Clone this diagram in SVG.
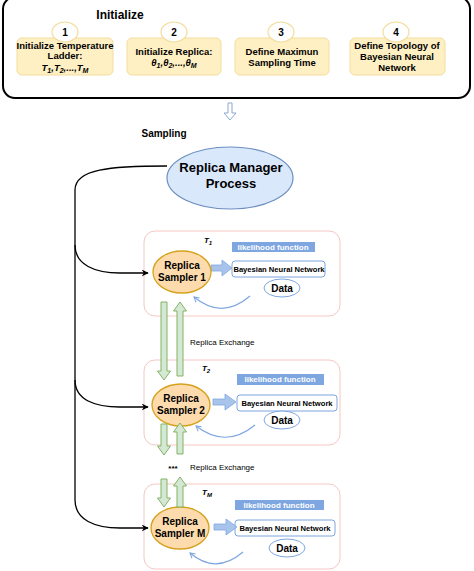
<svg xmlns="http://www.w3.org/2000/svg" width="474" height="571" viewBox="0 0 474 571">
<defs>
<style>
text{font-family:"Liberation Sans",Arial,sans-serif;font-weight:bold;fill:#000;text-anchor:middle}
.ybox{fill:#fff0c4;stroke:#f3dc9c;stroke-width:1}
.num{fill:#fff;stroke:#f3dc9c;stroke-width:1.2}
.grp{fill:#fff;stroke:#f4c7c3;stroke-width:1}
.samp{fill:#fddbad;stroke:#d6a21e;stroke-width:1.3}
.lik{fill:#7ea6e0}
.bnn{fill:#fff;stroke:#7ea6e0;stroke-width:1}
.data{fill:#fff;stroke:#7ea6e0;stroke-width:1}
.barrow{fill:#a9c4eb;stroke:#7ea6e0;stroke-width:0.8}
.garrow{fill:#d5e8d4;stroke:#82b366;stroke-width:1}
.conn{fill:none;stroke:#000;stroke-width:1.3}
.loop{fill:none;stroke:#7ea6e0;stroke-width:1.2}
.t10{font-size:10px}
.t9{font-size:9.5px}
.t8{font-size:8px}
.bt{font-size:7.6px}
.lbl{font-weight:normal;font-size:8px;text-anchor:start}
</style>
<marker id="ah" viewBox="0 0 10 10" refX="9" refY="5" markerWidth="7" markerHeight="7" orient="auto" markerUnits="userSpaceOnUse">
<path d="M0,0 L10,5 L0,10 L3,5 Z" fill="#000"/>
</marker>
<marker id="bh" viewBox="0 0 10 10" refX="8" refY="5" markerWidth="7" markerHeight="7" orient="auto" markerUnits="userSpaceOnUse">
<path d="M1,1 L8,5 L1,9" fill="none" stroke="#7ea6e0" stroke-width="1.5"/>
</marker>
</defs>

<g id="initialize">
<rect x="3" y="-3" width="467" height="101" rx="12" fill="#fff" stroke="#000" stroke-width="2"/>
<text x="120" y="19" style="font-size:12px">Initialize</text>
</g>

<g id="init1">
<rect class="ybox" x="17" y="38" width="96" height="37" rx="5"/>
<ellipse class="num" cx="65" cy="32" rx="13" ry="10"/>
<text class="t10" x="65" y="36">1</text>
<text class="t9" x="65" y="49">Initialize Temperature</text>
<text class="t9" x="65" y="59">Ladder:</text>
<text class="t9" x="65" y="71" font-style="italic">T<tspan font-size="7" dy="2">1</tspan><tspan dy="-2">,T</tspan><tspan font-size="7" dy="2">2</tspan><tspan dy="-2">,...,T</tspan><tspan font-size="7" dy="2">M</tspan></text>
</g>

<g id="init2">
<rect class="ybox" x="127" y="38" width="94" height="37" rx="5"/>
<ellipse class="num" cx="174" cy="32" rx="13" ry="10"/>
<text class="t10" x="174" y="36">2</text>
<text class="t9" x="174" y="55">Initialize Replica:</text>
<text class="t9" x="174" y="66" font-style="italic">θ<tspan font-size="7" dy="2">1</tspan><tspan dy="-2">,θ</tspan><tspan font-size="7" dy="2">2</tspan><tspan dy="-2">,...,θ</tspan><tspan font-size="7" dy="2">M</tspan></text>
</g>

<g id="init3">
<rect class="ybox" x="235" y="38" width="94" height="37" rx="5"/>
<ellipse class="num" cx="281" cy="32" rx="13" ry="10"/>
<text class="t10" x="281" y="36">3</text>
<text class="t9" x="282" y="55">Define Maximun</text>
<text class="t9" x="282" y="66">Sampling Time</text>
</g>

<g id="init4">
<rect class="ybox" x="350" y="38" width="95" height="37" rx="5"/>
<ellipse class="num" cx="396" cy="32" rx="13" ry="10"/>
<text class="t10" x="396" y="36">4</text>
<text class="t9" x="397" y="49">Define Topology of</text>
<text class="t9" x="397" y="60">Bayesian Neural</text>
<text class="t9" x="397" y="71">Network</text>
</g>

<g id="sampling-label">
<text x="164" y="137" style="font-size:10px">Sampling</text>
</g>

<g id="manager">
<ellipse cx="230" cy="178" rx="63" ry="31" fill="#dae8fc" stroke="#6c8ebf" stroke-width="1.2"/>
<text x="231" y="172" style="font-size:13px">Replica Manager</text>
<text x="231" y="188" style="font-size:13px">Process</text>
</g>

<g id="group1">
<rect class="grp" x="144" y="231" width="196" height="85" rx="11"/>
<text class="t8" x="208" y="243" font-style="italic">T<tspan font-size="6" dy="2">1</tspan></text>
<rect class="lik" x="232" y="242" width="83" height="10"/>
<text class="t8" x="273" y="250" style="fill:#fff">likelihood function</text>
<rect class="bnn" x="232" y="261" width="93" height="16" rx="3"/>
<text class="bt" x="279" y="272">Bayesian Neural Network</text>
<ellipse class="data" cx="282" cy="288" rx="18" ry="9"/>
<text class="t10" x="282" y="292">Data</text>
<path class="barrow" d="M211,265 L222,265 L222,260 L232,268 L222,276 L222,271 L211,271 Z"/>
<path class="loop" d="M250,296 Q222,320 194,297" marker-end="url(#bh)"/>
</g>
<g id="sampler1">
<ellipse class="samp" cx="182" cy="272" rx="29" ry="21"/>
<text class="t10" x="182" y="269">Replica</text>
<text class="t10" x="182" y="281">Sampler 1</text>
</g>

<g id="group2">
<rect class="grp" x="144" y="360" width="196" height="85" rx="11"/>
<text class="t8" x="206" y="371" font-style="italic">T<tspan font-size="6" dy="2">2</tspan></text>
<rect class="lik" x="237" y="374" width="87" height="11"/>
<text class="t8" x="280" y="382" style="fill:#fff">likelihood function</text>
<rect class="bnn" x="237" y="395" width="100" height="16" rx="3"/>
<text class="bt" x="287" y="406">Bayesian Neural Network</text>
<ellipse class="data" cx="282" cy="420" rx="18" ry="9"/>
<text class="t10" x="282" y="424">Data</text>
<path class="barrow" d="M213,399 L225,399 L225,394 L236,402 L225,410 L225,405 L213,405 Z"/>
<path class="loop" d="M255,425 Q226,449 196,426" marker-end="url(#bh)"/>
</g>
<g id="sampler2">
<ellipse class="samp" cx="181" cy="405" rx="29" ry="21"/>
<text class="t10" x="181" y="402">Replica</text>
<text class="t10" x="181" y="414">Sampler 2</text>
</g>

<g id="group3">
<rect class="grp" x="144" y="484" width="196" height="85" rx="11"/>
<text class="t8" x="207" y="495" font-style="italic">T<tspan font-size="6" dy="2">M</tspan></text>
<rect class="lik" x="235" y="500" width="89" height="10"/>
<text class="t8" x="279" y="508" style="fill:#fff">likelihood function</text>
<rect class="bnn" x="235" y="520" width="100" height="16" rx="3"/>
<text class="bt" x="285" y="531">Bayesian Neural Network</text>
<ellipse class="data" cx="287" cy="548" rx="18" ry="9"/>
<text class="t10" x="287" y="552">Data</text>
<path class="barrow" d="M214,524 L226,524 L226,519 L237,527 L226,535 L226,530 L214,530 Z"/>
<path class="loop" d="M243,552 Q216,575 190,553" marker-end="url(#bh)"/>
</g>
<g id="samplerM">
<ellipse class="samp" cx="180" cy="528" rx="29" ry="21"/>
<text class="t10" x="180" y="525">Replica</text>
<text class="t10" x="180" y="537">Sampler M</text>
</g>

<g id="connectors">
<path d="M228,103 L232,103 L232,113 L236,113 L230,120 L224,113 L228,113 Z" fill="#fff" stroke="#8fa9d0" stroke-width="1"/>
<path class="conn" d="M167,166 C110,166 75,169 75,190 L75,245 C75,265 95,273 120,273 L148,273" marker-end="url(#ah)"/>
<path class="conn" d="M75,245 L75,380 C75,400 95,407 120,407 L148,407" marker-end="url(#ah)"/>
<path class="conn" d="M75,380 L75,500 C75,520 95,528 120,528 L148,528" marker-end="url(#ah)"/>
<path class="garrow" d="M161,302 L167,302 L167,371 L170.5,371 L164,380 L157.5,371 L161,371 Z"/>
<path class="garrow" d="M180,302 L186.5,311 L183,311 L183,376 L177,376 L177,311 L173.5,311 Z"/>
<path class="garrow" d="M161,424 L167,424 L167,446 L170.5,446 L164,455 L157.5,446 L161,446 Z"/>
<path class="garrow" d="M180,423 L186.5,432 L183,432 L183,454 L177,454 L177,432 L173.5,432 Z"/>
<path class="garrow" d="M161,479 L167,479 L167,498 L170.5,498 L164,507 L157.5,498 L161,498 Z"/>
<path class="garrow" d="M180,477 L186.5,486 L183,486 L183,507 L177,507 L177,486 L173.5,486 Z"/>
<text class="lbl" x="190" y="345">Replica Exchange</text>
<text class="t8" x="173" y="471">***</text>
<text class="lbl" x="190" y="470">Replica Exchange</text>
</g>
</svg>
